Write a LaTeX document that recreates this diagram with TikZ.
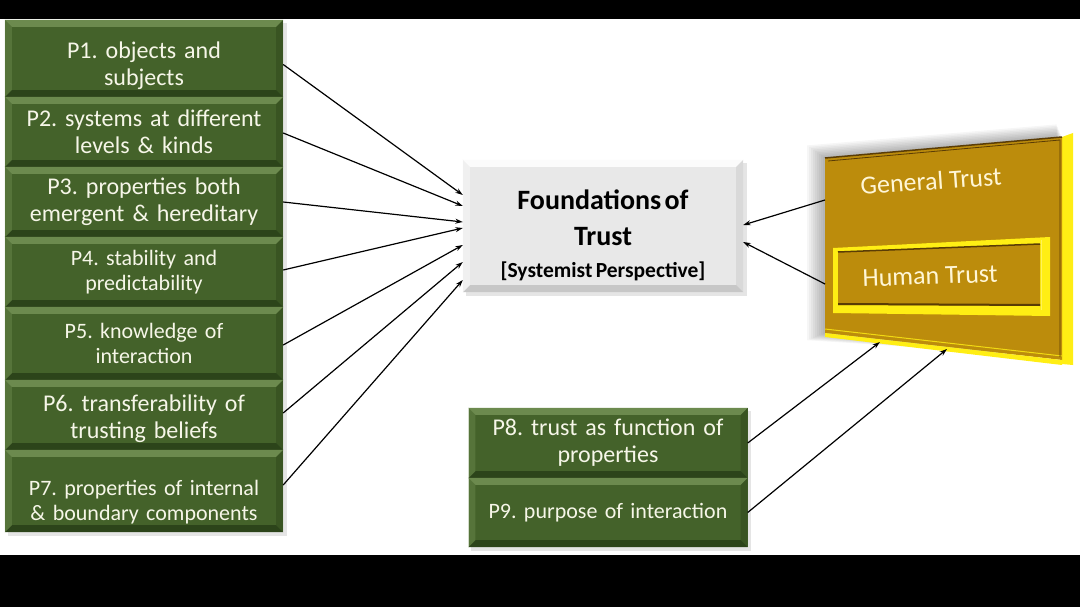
\documentclass[tikz,border=0pt]{standalone}
\usepackage{fontspec}
\setmainfont{Carlito}
\frenchspacing
\usetikzlibrary{arrows.meta,calc}
\definecolor{grn}{RGB}{68,98,42}
\definecolor{grnlt}{RGB}{108,138,78}
\definecolor{grndk}{RGB}{44,68,26}
\definecolor{txtlt}{RGB}{246,246,232}
\definecolor{gld}{RGB}{188,140,12}
\definecolor{gldk}{RGB}{90,60,5}
\definecolor{ylw}{RGB}{255,238,20}
\definecolor{cream}{RGB}{255,246,214}
\newcommand\bevelit[3]{%
  \fill[#2] (#1.north west) -- (#1.north east) -- ($(#1.north east)+(-7,7)$) -- ($(#1.north west)+(7,7)$) -- cycle;
  \fill[#3] (#1.south west) -- (#1.south east) -- ($(#1.south east)+(-7,-7)$) -- ($(#1.south west)+(7,-7)$) -- cycle;
  \fill[#2,opacity=0.45] (#1.north west) -- ($(#1.north west)+(7,7)$) -- ($(#1.south west)+(7,-7)$) -- (#1.south west) -- cycle;
  \fill[#3,opacity=0.45] (#1.north east) -- ($(#1.north east)+(-7,7)$) -- ($(#1.south east)+(-7,-7)$) -- (#1.south east) -- cycle;
}
\begin{document}
\begin{tikzpicture}[x=1pt,y=-1pt,
  gbox/.style={fill=grn, text=txtlt, minimum width=278pt, inner sep=0pt, align=center,
    text width=272pt, font=\fontsize{24}{27}\selectfont},
  gsmall/.style={font=\fontsize{22}{25}\selectfont},
  arr/.style={draw=black, line width=1.2pt, -{Stealth[length=7.5pt,width=5pt]}}]
\useasboundingbox (0,0) rectangle (1080,607);
\fill[white] (0,0) rectangle (1080,607);
\fill[black] (0,0) rectangle (1080,19);
\fill[black] (0,555) rectangle (1080,607);

% left column shadow
\fill[black,opacity=0.10] (8,23) rectangle (287,536);
% left column
\node[gbox, minimum height=77pt] (p1) at (144,58.5) {\rule{0pt}{32pt}P1. objects and\\subjects};
\node[gbox, minimum height=70pt] (p2) at (144,132) {P2. systems at different\\levels \& kinds};
\node[gbox, minimum height=70pt] (p3) at (144,202) {P3. properties both\\emergent \& hereditary};
\node[gbox, gsmall, minimum height=70pt] (p4) at (144,272) {P4. stability and\\predictability};
\node[gbox, gsmall, minimum height=73pt] (p5) at (144,343.5) {P5. knowledge of\\interaction};
\node[gbox, minimum height=70pt] (p6) at (144,415) {\rule{0pt}{24pt}P6. transferability of\\trusting beliefs};
\node[gbox, gsmall, minimum height=82pt] (p7) at (144,491) {\rule{0pt}{37pt}P7. properties of internal\\\& boundary components};
\foreach \n in {p1,p2,p3,p4,p5,p6,p7}{\bevelit{\n}{grnlt}{grndk}}

% bottom boxes
\fill[black,opacity=0.10] (471,411) rectangle (751,551);
\node[gbox, minimum width=279pt, minimum height=70pt] (p8) at (608,443) {P8. trust as function of\\properties};
\node[gbox, gsmall, minimum width=279pt, minimum height=69pt] (p9) at (608,512.5) {P9. purpose of interaction};
\foreach \n in {p8,p9}{\bevelit{\n}{grnlt}{grndk}}

% centre box
\fill[black,opacity=0.10] (466,163) rectangle (747,296);
\node[fill=black!9, minimum width=280pt, minimum height=132pt, inner sep=0pt, align=center, text width=276pt, text=black, font=\bfseries] (found) at (603,226)
  {{\fontsize{28}{36}\selectfont \rule{0pt}{38pt}Foundations of\par Trust\par}%
   {\fontsize{21.5}{32}\selectfont [Systemist Perspective]\par}};
\bevelit{found}{white!70!black!5}{black!22}

% gold panel with soft shadow
\coordinate (gTL) at (825,158);
\coordinate (gTR) at (1062,137);
\coordinate (gBR) at (1062,360);
\coordinate (gBL) at (825,333);
\foreach \s in {2,4,...,18}{
  \fill[black,opacity=0.035] ($(gTL)+(-\s,-\s*0.7)$) -- ($(gTR)+(-\s*0.3,-\s*0.7)$) -- ($(gBR)+(-\s*0.3,-\s*0.2)$) -- ($(gBL)+(-\s,\s*0.4)$) -- cycle;}
\fill[ylw] (gTR) -- (1073,133) -- (1073,365) -- ($(gBR)+(0,4)$) -- (gBR) -- cycle;
\fill[gld] (gTL) -- (gTR) -- (gBR) -- (gBL) -- cycle;
\fill[ylw] (gBL) -- (gBR) -- ($(gBR)+(0,5)$) -- ($(gBL)+(0,4)$) -- cycle;
\draw[gldk, line width=1.5pt] (gTL) -- (gTR);
\draw[ylw!80!gld, line width=1pt] ($(gBL)+(0,-4)$) -- ($(gBR)+(0,-4)$);
\draw[gldk, line width=0.8pt] ($(gTL)+(3,3)$) -- ($(gTR)+(-2,3)$) -- ($(gBR)+(-2,-3)$);
% inner frame
\coordinate (hTL) at (833,248);
\coordinate (hTR) at (1050,237);
\coordinate (hBR) at (1050,316);
\coordinate (hBL) at (833,313);
\fill[ylw] (hTL) -- (hTR) -- (hBR) -- (hBL) -- cycle;
\fill[gld] (838,252) -- (1040,244) -- (1040,306) -- (838,305) -- cycle;
\draw[gldk, line width=1.5pt] (838,252) -- (1040,244);
\draw[gldk, line width=2pt] (838,304) -- (1040,305);
\draw[ylw!70!white, line width=1pt] (1041,240) -- (1041,310);
\node[text=cream, font=\fontsize{26}{30}\selectfont, rotate=4] (gen) at (931,181) {General Trust};
\node[text=cream, font=\fontsize{26}{30}\selectfont, rotate=2] (hum) at (930,276) {Human Trust};
\coordinate (g1) at (825,200);
\coordinate (g2) at (825,284);
\coordinate (b1) at (880,342);
\coordinate (b2) at (947,349);

% connectors
\draw[arr] ($(p1.east)+(0,6)$) -- ($(found.west)+(0,-31)$);
\draw[arr] ($(p2.east)+(0,1)$) -- ($(found.west)+(0,-20)$);
\draw[arr] (p3.east) -- ($(found.west)+(0,-4)$);
\draw[arr] ($(p4.east)+(0,-2)$) -- ($(found.west)+(0,2)$);
\draw[arr] ($(p5.east)+(0,1.5)$) -- ($(found.west)+(0,19)$);
\draw[arr] ($(p6.east)+(0,-2)$) -- ($(found.west)+(0,36)$);
\draw[arr] ($(p7.east)+(0,-6)$) -- ($(found.west)+(0,54)$);
\draw[arr] (g1) -- ($(found.east)+(0,-1)$);
\draw[arr] (g2) -- ($(found.east)+(0,16)$);
\draw[arr] (p8.east) -- (b1);
\draw[arr] (p9.east) -- (b2);
\end{tikzpicture}
\end{document}
